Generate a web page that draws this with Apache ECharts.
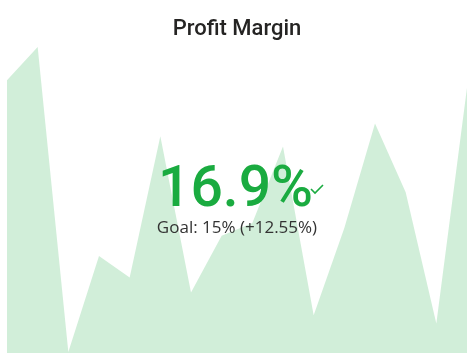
<!DOCTYPE html>
<html>
<head>
<meta charset="utf-8">
<style>
  html, body { margin: 0; padding: 0; background: #fff; }
  #chart { width: 474px; height: 362px; }
</style>
<script src="https://cdn.jsdelivr.net/npm/echarts@6/dist/echarts.min.js"></script>
</head>
<body>
<div id="chart"></div>
<script>
// Monthly profit margin (%) shown as the background trend
const periods = ['P1', 'P2', 'P3', 'P4', 'P5', 'P6', 'P7', 'P8', 'P9', 'P10', 'P11', 'P12', 'P13', 'P14', 'P15', 'P16'];
const margins = [17.2, 18.5, 6.54, 10.3, 9.46, 15.0, 8.87, 11.1, 11.6, 14.6, 7.98, 11.4, 15.5, 12.8, 7.66, 16.9];

// KPI card texts
const cardTitle = 'Profit Margin';
const currentValue = 16.9;
const goalValue = 15;
const goalDelta = 12.55;

const green = '#1AAB40';
const chart = echarts.init(document.getElementById('chart'));

chart.setOption({
  animation: false,
  backgroundColor: '#ffffff',
  title: {
    text: cardTitle,
    left: 'center',
    top: 13,
    textStyle: {
      fontFamily: 'Roboto',
      fontSize: 22,
      fontWeight: 500,
      color: '#252423'
    }
  },
  grid: { left: 7, right: 7, top: 47, bottom: 9 },
  xAxis: {
    type: 'category',
    data: periods,
    boundaryGap: false,
    show: false
  },
  yAxis: {
    type: 'value',
    min: 6.5,
    max: 18.5,
    show: false
  },
  series: [{
    type: 'line',
    data: margins,
    symbol: 'none',
    lineStyle: { width: 0 },
    areaStyle: { color: 'rgba(26,171,64,0.2)', opacity: 1 },
    silent: true
  }],
  graphic: [
    {
      type: 'text',
      left: 158,
      top: 163,
      z: 10,
      style: {
        text: currentValue.toFixed(1) + '%',
        font: '500 57px Roboto',
        fill: green
      }
    },
    {
      type: 'polyline',
      z: 10,
      shape: { points: [[311, 189], [315, 193], [323, 185]] },
      style: { stroke: green, lineWidth: 1.6, fill: null }
    },
    {
      type: 'text',
      left: 'center',
      top: 220,
      z: 10,
      style: {
        text: 'Goal: ' + goalValue + '% (+' + goalDelta.toFixed(2) + '%)',
        font: 'normal 17px "Open Sans"',
        fill: '#333333'
      }
    }
  ]
});
</script>
</body>
</html>
